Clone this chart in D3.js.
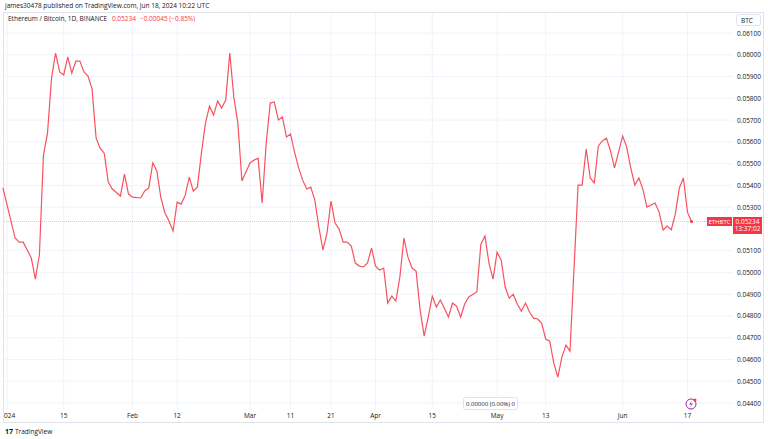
<!DOCTYPE html>
<html><head><meta charset="utf-8">
<script src="https://cdn.jsdelivr.net/npm/d3@7"></script>
<style>body{margin:0;background:#fff;font-family:"Open Sans",Roboto,sans-serif}</style>
</head><body><svg id="c" width="768" height="439"></svg>
<script>
// day offset from 2024-01-01
const days = [-1,2,3,4,6,7,8,9,10,11,12,13,14,15,16,17,18,19,20,21,22,23,24,25,26,28,29,30,31,33,34,35,36,37,38,39,40,41,42,43,44,45,46,47,48,49,50,51,52,53,54,55,56,57,58,60,61,62,63,64,65,66,67,68,69,70,71,72,73,74,75,76,77,78,79,80,81,82,83,84,85,86,87,88,89,90,91,92,93,94,95,96,97,98,99,100,101,102,103,104,105,106,107,109,110,111,112,113,114,116,117,118,119,120,121,122,123,124,125,126,127,128,129,130,131,132,133,134,135,136,137,138,139,141,142,143,144,145,146,147,148,149,150,152,153,154,155,156,157,158,160,161,162,163,164,165,166,167,168,169];
const prices = [0.05388,0.05158,0.05139,0.05139,0.05066,0.04969,0.05080,0.05539,0.05640,0.05893,0.06008,0.05921,0.05907,0.05990,0.05916,0.05971,0.05971,0.05921,0.05902,0.05843,0.05617,0.05571,0.05548,0.05415,0.05383,0.05351,0.05452,0.05360,0.05346,0.05342,0.05374,0.05388,0.05503,0.05466,0.05342,0.05273,0.05236,0.05190,0.05323,0.05314,0.05355,0.05438,0.05374,0.05392,0.05548,0.05686,0.05764,0.05723,0.05787,0.05755,0.05792,0.06008,0.05806,0.05686,0.05420,0.05503,0.05516,0.05525,0.05319,0.05594,0.05778,0.05783,0.05700,0.05714,0.05622,0.05636,0.05553,0.05480,0.05424,0.05383,0.05392,0.05332,0.05208,0.05103,0.05181,0.05328,0.05227,0.05199,0.05139,0.05139,0.05121,0.05043,0.05029,0.05025,0.05043,0.05112,0.05029,0.05011,0.05020,0.04859,0.04891,0.04868,0.04979,0.05158,0.05070,0.05020,0.05006,0.04827,0.04707,0.04795,0.04891,0.04841,0.04873,0.04795,0.04859,0.04845,0.04795,0.04855,0.04887,0.04910,0.05130,0.05167,0.05043,0.04969,0.05093,0.05057,0.04933,0.04882,0.04900,0.04854,0.04822,0.04859,0.04818,0.04790,0.04786,0.04767,0.04694,0.04684,0.04583,0.04519,0.04611,0.04666,0.04638,0.05401,0.05401,0.05567,0.05434,0.05411,0.05581,0.05604,0.05617,0.05558,0.05480,0.05627,0.05576,0.05480,0.05401,0.05434,0.05383,0.05300,0.05319,0.05277,0.05195,0.05213,0.05195,0.05268,0.05388,0.05434,0.05277,0.05234];
const xTickDays = [0,14,31,42,60,70,80,91,105,121,133,152,168];
const xTickLabels = ["024","15","Feb","12","Mar","11","21","Apr","15","May","13","Jun","17"];
const yTicks = [0.044,0.045,0.046,0.047,0.048,0.049,0.050,0.051,0.052,0.053,0.054,0.055,0.056,0.057,0.058,0.059,0.060,0.061];
const last = 0.05234;

const svg = d3.select("#c");
const x = d3.scaleLinear().domain([0,169]).range([7,691.5]);
const y = d3.scaleLinear().domain([0.044,0.061]).range([403,33]);
const red = "#f23645";
const lineRed = "#f7525f";

svg.append("rect").attr("x",3.5).attr("y",12.5).attr("width",760).attr("height",410).attr("fill","none").attr("stroke","#e0e3eb");
svg.selectAll(".hg").data(yTicks.filter(v=>v!==0.052)).enter().append("line")
  .attr("x1",4).attr("x2",733).attr("y1",d=>y(d)).attr("y2",d=>y(d)).attr("stroke","#f0f3fa");
svg.selectAll(".vg").data(xTickDays).enter().append("line")
  .attr("x1",d=>x(d)).attr("x2",d=>x(d)).attr("y1",13).attr("y2",409).attr("stroke","#f0f3fa");
svg.selectAll(".yl").data(yTicks.filter(v=>v!==0.052)).enter().append("text")
  .attr("x",737).attr("y",d=>y(d)+2.5).attr("font-size",6.5).attr("fill","#131722").text(d=>d.toFixed(5));
svg.selectAll(".xl").data(xTickDays).enter().append("text")
  .attr("x",(d,i)=>i===0?4:x(d)).attr("y",418).attr("font-size",6.5).attr("fill","#131722")
  .attr("text-anchor",(d,i)=>i===0?"start":"middle").text((d,i)=>xTickLabels[i]);
svg.append("line").attr("x1",4).attr("x2",733).attr("y1",y(last)).attr("y2",y(last))
  .attr("stroke",red).attr("stroke-opacity",0.35).attr("stroke-dasharray","1,1");
const data = days.map((d,i)=>({d,v:prices[i]}));
svg.append("path").datum(data).attr("fill","none").attr("stroke",lineRed).attr("stroke-width",1.2)
  .attr("d",d3.line().x(p=>x(p.d)).y(p=>y(p.v)));
svg.append("circle").attr("cx",x(169)).attr("cy",y(last)).attr("r",1.5).attr("fill",red);
svg.append("rect").attr("x",707).attr("y",y(last)-4.5).attr("width",25).attr("height",9).attr("fill",red);
svg.append("text").attr("x",719.5).attr("y",y(last)+2.3).attr("text-anchor","middle").attr("font-size",6).attr("fill","#fff").text("ETHBTC");
svg.append("rect").attr("x",733).attr("y",y(last)-4.5).attr("width",29).attr("height",17).attr("fill",red);
svg.append("text").attr("x",747.5).attr("y",y(last)+2.3).attr("text-anchor","middle").attr("font-size",6.5).attr("fill","#fff").text(last.toFixed(5));
svg.append("text").attr("x",747.5).attr("y",y(last)+10).attr("text-anchor","middle").attr("font-size",6.5).attr("fill","#fff").text("13:37:02");
svg.append("rect").attr("x",736.5).attr("y",14.5).attr("width",24).attr("height",11).attr("fill","#fff").attr("stroke","#e0e3eb").attr("rx",2);
svg.append("text").attr("x",741).attr("y",22.5).attr("font-size",6.5).attr("fill","#131722").text("BTC");
svg.append("text").attr("x",5).attr("y",8).attr("font-size",6.5).attr("fill","#131722").text("james30478 published on TradingView.com, Jun 18, 2024 10:22 UTC");
const lg = svg.append("text").attr("x",8).attr("y",21).attr("font-size",6.5).attr("fill","#131722");
lg.append("tspan").text("Ethereum / Bitcoin, 1D, BINANCE ");
lg.append("tspan").attr("fill",red).attr("dx",3).text("0.05234");
lg.append("tspan").attr("fill",red).attr("dx",4).text("−0.00045 (−0.85%)");
svg.append("rect").attr("x",463.5).attr("y",397.5).attr("width",54).attr("height",12).attr("fill","#fff").attr("stroke","#e0e3eb").attr("rx",2);
svg.append("text").attr("x",490.5).attr("y",405.5).attr("text-anchor","middle").attr("font-size",6).attr("fill","#131722").text("0.00000 (0.00%) 0");
svg.append("circle").attr("cx",691).attr("cy",404).attr("r",5).attr("fill","#fff").attr("stroke","#9c27b0").attr("stroke-width",1);
svg.append("path").attr("d","M692,400.5 L689,404.5 L691.5,404.5 L690,407.5 L693,403.5 L690.5,403.5 Z").attr("fill","#9c27b0");
svg.append("circle").attr("cx",695).attr("cy",400).attr("r",1.5).attr("fill",red);
svg.append("text").attr("x",5).attr("y",434).attr("font-size",7).attr("font-weight","bold").attr("fill","#131722").text("17");
svg.append("text").attr("x",15).attr("y",434).attr("font-size",6.5).attr("fill","#131722").text("TradingView");
</script></body></html>
